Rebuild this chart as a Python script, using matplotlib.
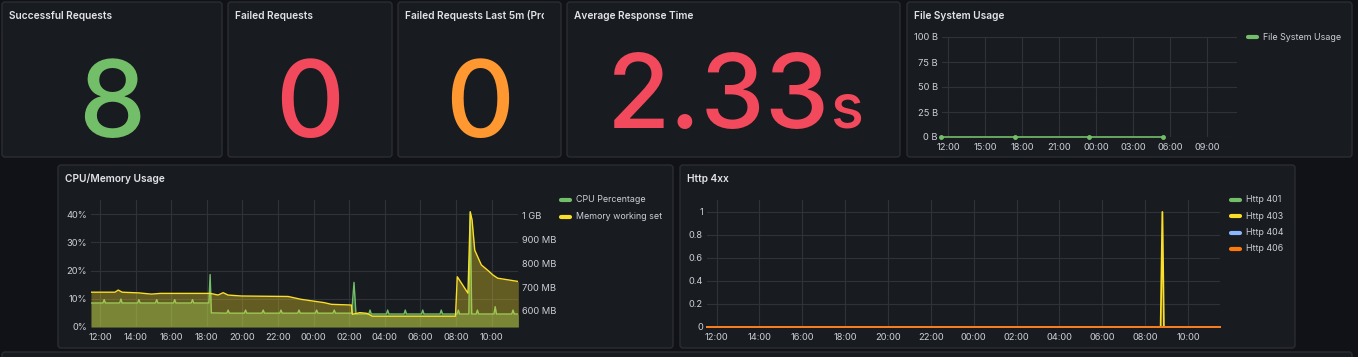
import matplotlib
matplotlib.use("Agg")
import matplotlib.pyplot as plt
from matplotlib.patches import FancyBboxPatch
from matplotlib.lines import Line2D
from matplotlib.transforms import Affine2D, Bbox, TransformedBbox
from matplotlib.ticker import FixedLocator, FuncFormatter

plt.rcParams['font.family'] = ['Inter', 'DejaVu Sans']

# ---- stat panels ----
stat_titles = ["Successful Requests", "Failed Requests", "Failed Requests Last 5m (Pro"]
stat_values = ["8", "0", "0"]
avg_response = "2.33"
avg_unit = "s"

# ---- file system usage (bytes), hours since 00:00 of day 1 ----
fs_hours = [11.42, 17.42, 23.42, 29.42]
fs_bytes = [0, 0, 0, 0]

# ---- CPU / memory ----
cpu_hours = [11.5,
             12.17, 12.24, 12.31, 13.11, 13.18, 13.25, 14.12, 14.19, 14.26,
             15.12, 15.19, 15.26, 16.13, 16.2, 16.27, 17.13, 17.2, 17.27,
             18.12, 18.19, 18.26, 19.13, 19.2, 19.27, 20.11, 20.18, 20.25,
             21.1, 21.17, 21.24, 22.1, 22.17, 22.24, 23.11, 23.18, 23.25,
             24.1, 24.17, 24.24, 25.09, 25.16, 25.23, 26.14, 26.27, 26.38,
             27.1, 27.17, 27.24, 28.09, 28.16, 28.23, 29.08, 29.15, 29.22,
             30.06, 30.13, 30.2, 31.1, 31.17, 31.24, 32.06, 32.13, 32.2,
             32.72, 32.8, 32.88, 33.13, 33.2, 33.27, 34.13, 34.2, 34.27,
             35.13, 35.2, 35.27, 35.5]
cpu_pct = [8.5,
           8.5, 9.7, 8.5, 8.5, 9.9, 8.5, 8.5, 9.7, 8.5,
           8.5, 9.7, 8.5, 8.5, 9.7, 8.5, 8.5, 9.7, 8.5,
           8.5, 18.6, 5.0, 4.9, 6.0, 4.9, 4.9, 6.0, 4.9,
           4.9, 6.0, 4.9, 4.9, 6.0, 4.9, 4.9, 6.0, 4.9,
           4.9, 6.0, 4.9, 4.9, 6.0, 4.9, 4.9, 15.8, 4.6,
           4.6, 6.0, 4.6, 4.6, 6.0, 4.6, 4.6, 6.0, 4.6,
           4.6, 6.0, 4.6, 4.6, 6.0, 4.6, 4.6, 6.0, 4.6,
           4.6, 40.8, 4.6, 4.6, 6.0, 4.6, 4.6, 7.2, 4.6,
           4.6, 6.0, 4.6, 4.6]

mem_hours = [11.5, 12.85, 13.03, 13.25, 14.2, 14.9, 15.4, 18.2, 18.64, 18.92,
             19.2, 19.95, 22.57, 23.3, 24.6, 25.0, 26.12, 26.18, 26.6, 27.0,
             27.3, 31.97, 32.07, 32.67, 32.8, 32.9, 33.05, 33.42, 33.8, 34.08,
             34.34, 35.5]
mem_mb = [679, 679, 688, 679, 676, 671, 674, 674, 667, 677,
          667, 663, 661, 649, 635, 628, 625, 586, 593, 590,
          578, 578, 744, 675, 1017, 983, 856, 794, 770, 751,
          738, 724]

# ---- Http 4xx ----
http_hours = [11.55, 32.73, 32.81, 32.88, 35.5]
http_401 = [0, 0, 0, 0, 0]
http_403 = [0, 0, 1, 0, 0]
http_404 = [0, 0, 0, 0, 0]
http_406 = [0, 0, 0, 0, 0]

# ---- colours ----
BG = '#111217'
PANEL = '#181b1f'
BORDER = '#2a2d33'
TITLE = '#e2e3ea'
TICK = '#cdced8'
GRID = '#2f3237'
GREEN = '#73BF69'
RED = '#F2495C'
ORANGE = '#FF9830'
YELLOW = '#FADE2A'
BLUE = '#8AB8FF'
DORANGE = '#FF780A'

W, H = 1358, 357
fig = plt.figure(figsize=(W / 100, H / 100), dpi=100, facecolor=BG)
pix = Affine2D().scale(1 / W, -1 / H).translate(0, 1) + fig.transFigure


def panel(x0, y0, x1, y1, title=None, clip_x=None):
    fig.add_artist(FancyBboxPatch((x0, y0), x1 - x0, y1 - y0,
                                  boxstyle="round,pad=0,rounding_size=3",
                                  transform=pix, fc=PANEL, ec=BORDER, lw=1, zorder=-5))
    if title:
        t = fig.text(x0 + 7, y0 + 16.8, title, transform=pix, color=TITLE,
                     fontsize=7.3, fontweight='semibold', va='baseline')
        if clip_x is not None:
            # title is cut off at the panel's content edge
            t.set_clip_box(TransformedBbox(Bbox([[x0, y0], [clip_x, y0 + 30]]), pix))
            t.set_clip_on(True)


def axbox(x0, y0, x1, y1):
    return [x0 / W, 1 - y1 / H, (x1 - x0) / W, (y1 - y0) / H]


def hhmm(v, pos):
    return f"{int(round(v)) % 24:02d}:00"


def style_time_axis(ax, xlim, step):
    ax.set_facecolor('none')
    for s in ax.spines.values():
        s.set_visible(False)
    ax.set_xlim(*xlim)
    ax.xaxis.set_major_locator(FixedLocator(list(range(12, int(xlim[1]) + 1, step))))
    ax.xaxis.set_major_formatter(FuncFormatter(hhmm))
    ax.tick_params(length=0, colors=TICK, labelsize=6.7)
    ax.tick_params(axis='x', pad=4.5)
    ax.tick_params(axis='y', pad=3)
    ax.grid(True, color=GRID, lw=0.8)
    ax.set_axisbelow(True)


def legend(x, y0, dy, items):
    for i, (label, col) in enumerate(items):
        y = y0 + i * dy
        fig.add_artist(Line2D([x, x + 9], [y, y], transform=pix, color=col, lw=3,
                              solid_capstyle='round'))
        fig.text(x + 15, y, label, transform=pix, color=TICK, fontsize=6.4, va='center')


# ---- panels ----
panel(2, 2, 222, 157, stat_titles[0])
panel(228, 2, 392, 157, stat_titles[1])
panel(398, 2, 561, 157, stat_titles[2], clip_x=544)
panel(567, 2, 900, 157, "Average Response Time")
panel(907, 2, 1352, 157, "File System Usage")
panel(58, 165, 673, 348, "CPU/Memory Usage")
panel(680, 165, 1295, 348, "Http 4xx")
panel(2, 352, 1352, 400)

# ---- stat numbers ----
for cx, val, col in zip([112, 310, 479.5], stat_values, [GREEN, RED, ORANGE]):
    fig.text(cx, 137, val, transform=pix, color=col, fontsize=77, fontweight='medium',
             ha='center', va='baseline')
fig.text(607, 128, avg_response, transform=pix, color=RED, fontsize=74, fontweight='medium',
         ha='left', va='baseline')
fig.text(830, 128, avg_unit, transform=pix, color=RED, fontsize=44, fontweight='medium',
         ha='left', va='baseline')

# ---- file system usage ----
ax_fs = fig.add_axes(axbox(942, 37, 1237, 137))
style_time_axis(ax_fs, (11.5, 35.45), 3)
ax_fs.plot(fs_hours, fs_bytes, color=GREEN, lw=1.2, marker='o', ms=2.5, clip_on=False)
ax_fs.set_ylim(0, 100)
ax_fs.yaxis.set_major_locator(FixedLocator([0, 25, 50, 75, 100]))
ax_fs.yaxis.set_major_formatter(FuncFormatter(lambda v, p: f"{int(v)} B"))
legend(1248, 37, 0, [("File System Usage", GREEN)])

# ---- CPU / memory ----
ax_c = fig.add_axes(axbox(91, 200, 518, 327))
style_time_axis(ax_c, (11.5, 35.48), 2)
ax_c.set_ylim(0, 45)
ax_c.yaxis.set_major_locator(FixedLocator([0, 10, 20, 30, 40]))
ax_c.yaxis.set_major_formatter(FuncFormatter(lambda v, p: f"{int(v)}%"))
ax_c.plot(cpu_hours, cpu_pct, color=GREEN, lw=1)
ax_c.fill_between(cpu_hours, cpu_pct, 0, color=GREEN, alpha=0.4, lw=0)

ax_m = ax_c.twinx()
ax_m.set_ylim(532.6, 1067)
for s in ax_m.spines.values():
    s.set_visible(False)
ax_m.yaxis.set_major_locator(FixedLocator([600, 700, 800, 900, 1000]))
ax_m.yaxis.set_major_formatter(FuncFormatter(lambda v, p: "1 GB" if v >= 1000 else f"{int(v)} MB"))
ax_m.tick_params(length=0, colors=TICK, labelsize=6.7, pad=3)
ax_m.plot(mem_hours, mem_mb, color=YELLOW, lw=1)
ax_m.fill_between(mem_hours, mem_mb, 532.6, color=YELLOW, alpha=0.33, lw=0)
legend(561, 200, 16.7, [("CPU Percentage", GREEN), ("Memory working set", YELLOW)])

# ---- Http 4xx ----
ax_h = fig.add_axes(axbox(707, 200, 1220, 327))
style_time_axis(ax_h, (11.55, 35.5), 2)
ax_h.set_ylim(0, 1.104)
ax_h.yaxis.set_major_locator(FixedLocator([0, 0.2, 0.4, 0.6, 0.8, 1]))
ax_h.yaxis.set_major_formatter(FuncFormatter(lambda v, p: "0" if v == 0 else ("1" if v == 1 else f"{v:.1f}")))
for series, col in [(http_401, GREEN), (http_403, YELLOW), (http_404, BLUE), (http_406, DORANGE)]:
    ax_h.plot(http_hours, series, color=col, lw=1.3, clip_on=False)
    ax_h.fill_between(http_hours, series, 0, color=col, alpha=0.12, lw=0)
legend(1231, 200, 16.3, [("Http 401", GREEN), ("Http 403", YELLOW), ("Http 404", BLUE), ("Http 406", DORANGE)])

fig.savefig("out.png", dpi=100, facecolor=BG)
